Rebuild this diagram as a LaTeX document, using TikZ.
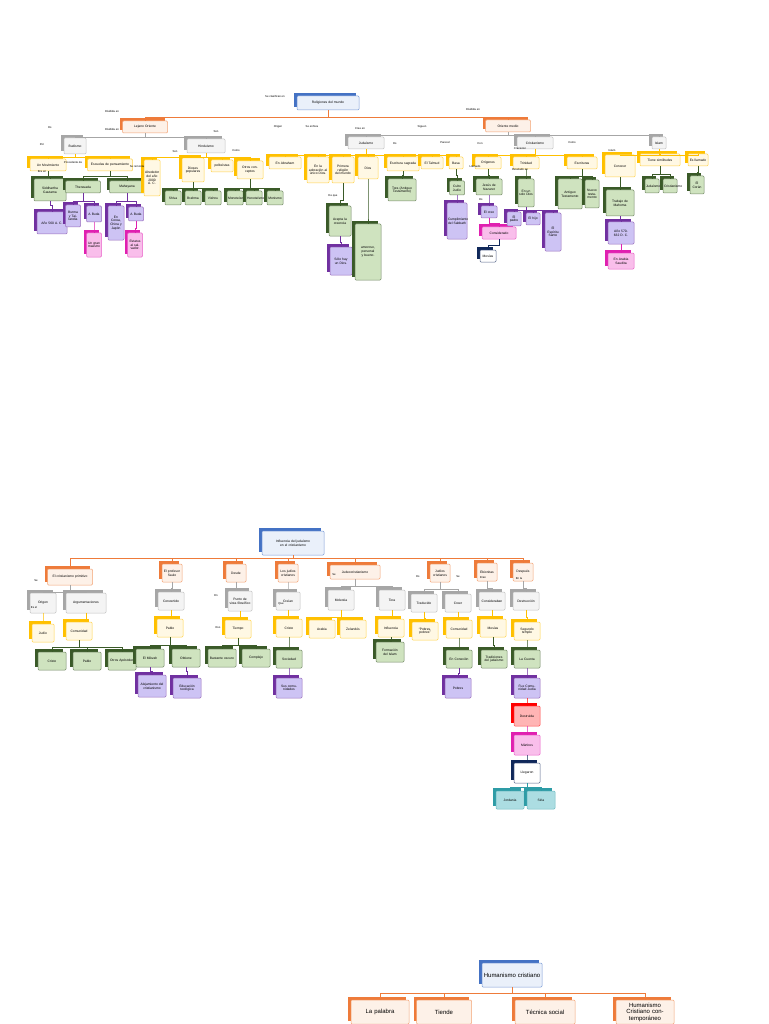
\documentclass[tikz,border=0pt]{standalone}
\usepackage{fontspec}
\setmainfont{Liberation Sans}
\definecolor{oD}{HTML}{EE7B3A}\definecolor{oL}{HTML}{FDF1E8}
\definecolor{gD}{HTML}{A6A6A6}\definecolor{gL}{HTML}{F4F4F4}
\definecolor{yD}{HTML}{FFC000}\definecolor{yL}{HTML}{FFF8E4}
\definecolor{eD}{HTML}{3A5A28}\definecolor{eL}{HTML}{CFE3BF}
\definecolor{pD}{HTML}{7030A0}\definecolor{pL}{HTML}{CDC3F4}
\definecolor{kD}{HTML}{E020B0}\definecolor{kL}{HTML}{F9BEEB}
\definecolor{nD}{HTML}{10285A}\definecolor{nL}{HTML}{FFFFFF}
\definecolor{rD}{HTML}{FF0000}\definecolor{rL}{HTML}{FFB4B4}
\definecolor{tD}{HTML}{2E9CA6}\definecolor{tL}{HTML}{ACDDE2}
\definecolor{bD}{HTML}{4472C4}\definecolor{bL}{HTML}{EAF0FA}
\newcommand\bx[7]{\fill[#6D] (#2-#4/2-3,#3-#5/2-3) rectangle ++(#4,#5);
 \node[draw=#6D!70,fill=#6L,line width=0.5pt,rounded corners=1pt,minimum width=#4,minimum height=#5,text width=#4-2,align=center,inner sep=0.5pt] (#1) at (#2,#3) {#7};}
\newcommand\tr[4]{\foreach \c in {#4}{\draw[#3,line width=0.8pt] (#1.south) -- (#1.south |- 0,#2) -| (\c.north);}}
\newcommand\lb[3]{\node[font=\fontsize{2.8}{3}\selectfont,inner sep=0] at (#1,#2) {#3};}
\begin{document}
\begin{tikzpicture}[x=1pt,y=-1pt]
\useasboundingbox (0,0) rectangle (768,1024);
\fontsize{3.3}{3.7}\selectfont
% ===== Tree 1
\bx{r}{328}{103}{62}{14}{b}{Religiones del mundo}
\bx{lo}{145}{127}{45}{12}{o}{Lejano Oriente}
\bx{om}{508}{126}{45}{12}{o}{Oriente medio}
\tr{r}{117}{oD}{lo,om}
\lb{275}{97}{Se clasifican en}\lb{112}{112}{Dividida en}\lb{473}{110}{Dividida en}
\bx{bud}{75}{146}{22}{16}{g}{Budismo}
\bx{hin}{206}{146}{38}{14}{g}{Hinduismo}
\tr{lo}{137}{gD}{bud,hin}
\lb{216}{132}{Son}\lb{112}{130}{Dividida en}\lb{50}{128}{Es}\lb{42}{145}{Por}
\bx{mov}{48}{165}{36}{12}{y}{Un Movimiento}
\bx{esc}{110}{165}{45}{12}{y}{Escuelas de pensamiento}
\tr{bud}{157}{yD}{mov,esc}
\lb{73}{163}{Procedente de}\lb{42}{172}{Era en}
\bx{sid}{50}{190}{32}{22}{e}{Siddhartha Gautama}
\tr{mov}{176}{eD}{sid}
\bx{a560}{52}{223}{30}{22}{p}{Año 560 A. C.}
\tr{sid}{205}{pD}{a560}
\bx{the}{83}{187}{35}{12}{e}{Theravada}
\bx{mah}{127}{187}{35}{12}{e}{Mahayana}
\tr{esc}{176}{eD}{the,mah}
\bx{bur}{73}{216}{15}{22}{p}{Burma y Tailandia}
\bx{ab1}{94}{214}{15}{16}{p}{A Buda}
\tr{the}{201}{pD}{bur,ab1}
\bx{gm}{94}{245}{15}{24}{k}{Un gran maestro}
\tr{ab1}{228}{kD}{gm}
\bx{cor}{116}{223}{16}{34}{p}{En Corea, China y Japón}
\bx{ab2}{136}{214}{15}{14}{p}{A Buda}
\tr{mah}{201}{pD}{cor,ab2}
\bx{sal}{135}{245}{15}{24}{k}{Estatus al salvador.}
\tr{ab2}{228}{kD}{sal}
\bx{alr}{152}{178}{16}{36}{y}{Alrededor del año 2000 A. C.}
\bx{dp}{193}{170}{22}{24}{y}{Dioses populares}
\bx{pol}{222}{166}{22}{12}{y}{politeístas}
\bx{oc}{250}{170}{26}{18}{y}{Otros conceptos}
\tr{hin}{157}{yD}{alr,dp,pol,oc}
\lb{175}{152}{Son}\lb{236}{151}{Como}\lb{137}{167}{Se remonta}
\bx{shi}{173}{198}{16}{14}{e}{Shiva}
\bx{bra}{193}{198}{16}{14}{e}{Brahma}
\bx{vis}{213}{198}{16}{14}{e}{Vishnu}
\tr{dp}{188}{eD}{shi,bra,vis}
\bx{mon}{235}{198}{16}{14}{e}{Monoteísmo}
\bx{hen}{254}{198}{16}{14}{e}{Henoteísmo}
\bx{moni}{275}{198}{16}{14}{e}{Monismo}
\tr{oc}{188}{eD}{mon,hen,moni}
\bx{jud}{366}{143}{36}{12}{g}{Judaísmo}
\bx{cri}{535}{143}{36}{12}{g}{Cristianismo}
\bx{isl}{659}{143}{14}{12}{g}{Islam}
\tr{om}{135}{gD}{jud,cri,isl}
\lb{278}{127}{Origen}\lb{312}{127}{Se enfoca}\lb{360}{129}{Cree en}\lb{422}{127}{Siguen}
\lb{395}{144}{Es}\lb{480}{144}{Con}\lb{572}{143}{Como}\lb{520}{149}{Crecieron}\lb{445}{143}{Parecel}
\bx{abr}{285}{163}{32}{12}{y}{En Abraham}
\bx{ado}{318}{170}{22}{26}{y}{En la adoración al único Dios.}
\bx{pri}{343}{170}{22}{26}{y}{Primera religión del mundo}
\bx{dio}{368}{168}{20}{22}{y}{Dios}
\bx{esa}{403}{164}{32}{14}{y}{Escritura sagrada}
\bx{tal}{432}{163}{22}{12}{y}{El Talmud}
\bx{bas}{456}{163}{14}{12}{y}{Basa}
\tr{jud}{155}{yD}{abr,ado,pri,dio,esa,tal,bas}
\bx{ace}{340}{221}{22}{30}{e}{Acepta la creencia}
\tr{pri}{200}{eD}{ace}
\lb{333}{196}{De que}
\bx{sol}{341}{261}{22}{28}{p}{Sólo hay un Dios.}
\tr{ace}{242}{pD}{sol}
\bx{amo}{368}{252}{26}{56}{e}{amoroso, personal y bueno.}
\tr{dio}{215}{eD}{amo}
\bx{tor}{402}{190}{28}{22}{e}{Tora (Antiguo Testamento)}
\tr{esa}{175}{eD}{tor}
\bx{cul}{457}{188}{15}{14}{e}{Culto Judío}
\tr{bas}{175}{eD}{cul}
\bx{sab}{457}{221}{20}{36}{p}{Cumplimiento del Sabbath}
\tr{cul}{199}{pD}{sab}
\bx{ori}{488}{163}{26}{12}{y}{Orígenes}
\bx{tri}{526}{163}{26}{12}{y}{Trinidad}
\bx{escr}{582}{163}{30}{12}{y}{Escrituras}
\tr{cri}{155}{yD}{ori,tri,escr}
\bx{jes}{489}{187}{26}{16}{e}{Jesús de Nazaret}
\tr{ori}{175}{eD}{jes}\lb{475}{167}{Llamado}
\bx{ecr}{489}{212}{16}{12}{p}{El creo}
\tr{jes}{200}{pD}{ecr}\lb{481}{200}{Es}
\bx{con}{499}{233}{34}{12}{k}{Considerado}
\tr{ecr}{223}{kD}{con}
\bx{mes}{488}{256}{16}{12}{n}{Mesías}
\tr{con}{245}{nD}{mes}
\bx{eus}{526}{193}{16}{28}{e}{En un solo Dios}
\tr{tri}{175}{eD}{eus}\lb{520}{170}{Revelado en}
\bx{pad}{514}{219}{14}{14}{p}{El padre}
\bx{hij}{533}{219}{14}{12}{p}{El hijo}
\bx{esp}{553}{232}{16}{38}{p}{El Espíritu Santo}
\tr{eus}{210}{pD}{pad,hij,esp}
\bx{ant}{570}{194}{24}{30}{e}{Antiguo Testamento}
\bx{nue}{592}{194}{14}{28}{e}{Nuevo testamento}
\tr{escr}{176}{eD}{ant,nue}
\bx{cono}{620}{166}{30}{22}{y}{Conocer}
\bx{tie}{660}{160}{40}{12}{y}{Tiene similitudes}
\bx{ell}{698}{160}{20}{12}{y}{Es llamado}
\tr{isl}{155}{yD}{cono,tie,ell}\lb{612}{151}{Islam}
\bx{tra}{620}{203}{28}{26}{e}{Trabajo de Mahoma}
\tr{cono}{185}{eD}{tra}
\bx{a570}{621}{233}{26}{22}{p}{Año 570-632 D. C.}
\tr{tra}{219}{pD}{a570}
\bx{ara}{621}{261}{26}{16}{k}{En Arabia Saudita}
\tr{a570}{248}{kD}{ara}
\bx{ij}{652}{186}{14}{14}{e}{Judaísmo}
\bx{ic}{670}{186}{14}{14}{e}{Cristianismo}
\tr{tie}{174}{eD}{ij,ic}
\bx{cor2}{697}{185}{14}{18}{e}{El Corán}
\tr{ell}{172}{eD}{cor2}
% ===== Tree 2
\bx{R2}{293}{543}{62}{24}{b}{Influencia del judaísmo en el cristianismo}
\bx{c1}{70}{577}{45}{16}{o}{El cristianismo primitivo}
\bx{c2}{172}{573}{20}{18}{o}{El profesor Saulo}
\bx{c3}{236}{573}{20}{18}{o}{Desde}
\bx{c4}{288}{573}{20}{18}{o}{Los judíos cristianos}
\bx{c5}{355}{572}{50}{14}{o}{Judeocristianismo}
\bx{c6}{440}{573}{20}{18}{o}{Judíos cristianos}
\bx{c7}{487}{572}{20}{18}{o}{Ebionitas}
\bx{c8}{523}{572}{20}{18}{o}{Después}
\tr{R2}{558}{oD}{c1,c2,c3,c4,c5,c6,c7,c8}
\bx{g1}{43}{603}{26}{20}{g}{Origen}
\bx{g2}{86}{603}{40}{20}{g}{Argumentaciones}
\tr{c1}{592}{gD}{g1,g2}
\bx{g3}{171}{601}{26}{18}{g}{Convertido}\tr{c2}{588}{gD}{g3}
\bx{g4}{240}{601}{24}{20}{g}{Punto de vista filosófico}\tr{c3}{588}{gD}{g4}
\bx{g5}{288}{601}{24}{18}{g}{Creían}\tr{c4}{588}{gD}{g5}
\bx{g6}{341}{600}{26}{20}{g}{Molestia}
\bx{g7}{392}{600}{26}{20}{g}{Tora}
\tr{c5}{586}{gD}{g6,g7}
\bx{g8}{424}{603}{26}{18}{g}{Traducido}
\bx{g9}{458}{603}{26}{18}{g}{Creer}
\tr{c6}{589}{gD}{g8,g9}
\bx{g10}{492}{601}{26}{18}{g}{Consideraban}\tr{c7}{588}{gD}{g10}
\bx{g11}{526}{601}{26}{18}{g}{Destrucción}\tr{c8}{588}{gD}{g11}
\lb{36}{581}{Se}\lb{34}{607}{Es el}\lb{216}{596}{En}\lb{281}{604}{Que}\lb{334}{575}{Se}
\lb{418}{577}{Es}\lb{458}{577}{Se}\lb{483}{578}{Eran}\lb{519}{578}{En la}\lb{70}{629}{Fase}\lb{218}{628}{Eso}
\bx{y1}{43}{633}{22}{18}{y}{Judío}\tr{g1}{619}{yD}{y1}
\bx{y2}{79}{631}{26}{18}{y}{Comunidad}\tr{g2}{619}{yD}{y2}
\bx{y3}{170}{628}{26}{18}{y}{Pablo}\tr{g3}{616}{yD}{y3}
\bx{y4}{238}{629}{26}{18}{y}{Tiempo}\tr{g4}{617}{yD}{y4}
\bx{y5}{289}{628}{26}{18}{y}{Cristo}\tr{g5}{616}{yD}{y5}
\bx{y6}{322}{629}{26}{18}{y}{Arabia}
\bx{y7}{353}{629}{26}{18}{y}{Zelandés}
\tr{g6}{617}{yD}{y6,y7}
\bx{y8}{391}{628}{26}{18}{y}{Influencia}\tr{g7}{616}{yD}{y8}
\bx{y9}{425}{631}{26}{18}{y}{“Pobres, pobres”}\tr{g8}{618}{yD}{y9}
\bx{y10}{459}{629}{26}{18}{y}{Comunidad}\tr{g9}{617}{yD}{y10}
\bx{y11}{493}{628}{26}{18}{y}{Mesías}\tr{g10}{616}{yD}{y11}
\bx{y12}{527}{631}{26}{18}{y}{Segundo templo}\tr{g11}{617}{yD}{y12}
\bx{e1}{52}{661}{28}{18}{e}{Cristo}
\bx{e2}{87}{661}{28}{18}{e}{Pablo}
\bx{e3}{122}{661}{28}{18}{e}{Otros Apóstoles}
\tr{y2}{647}{eD}{e1,e2,e3}
\bx{e4}{150}{658}{28}{18}{e}{El Mikvah}
\bx{e5}{186}{658}{28}{18}{e}{Obtiene}
\tr{y3}{645}{eD}{e4,e5}
\bx{e6}{222}{658}{28}{18}{e}{Bastante oscuro}
\bx{e7}{256}{658}{28}{18}{e}{Complejo}
\tr{y4}{645}{eD}{e6,e7}
\bx{e8}{289}{659}{26}{18}{e}{Sociedad}\tr{y5}{645}{eD}{e8}
\bx{e9}{390}{652}{28}{20}{e}{Formación del Islam}\tr{y8}{641}{eD}{e9}
\bx{e10}{459}{659}{26}{18}{e}{En Conexión}\tr{y10}{645}{eD}{e10}
\bx{e11}{494}{659}{26}{18}{e}{Tradiciones del judaísmo}\tr{y11}{645}{eD}{e11}
\bx{e12}{527}{659}{26}{18}{e}{La Cuenta}\tr{y12}{645}{eD}{e12}
\bx{p1}{152}{686}{28}{22}{p}{Alejamiento del cristianismo}\tr{e4}{671}{pD}{p1}
\bx{p2}{187}{688}{28}{20}{p}{Educación teológica}\tr{e5}{671}{pD}{p2}
\bx{p3}{289}{688}{26}{20}{p}{Sus comunidades}\tr{e8}{673}{pD}{p3}
\bx{p4}{458}{688}{26}{20}{p}{Pobres}\tr{e10}{673}{pD}{p4}
\bx{p5}{527}{688}{26}{20}{p}{Fue Comunidad Judía}\tr{e12}{673}{pD}{p5}
\bx{q1}{527}{716}{26}{20}{r}{Destruida}\tr{p5}{703}{rD}{q1}
\bx{q2}{527}{745}{26}{20}{k}{Mártires}\tr{q1}{731}{kD}{q2}
\bx{q3}{527}{773}{26}{20}{n}{Llegaron}\tr{q2}{760}{nD}{q3}
\bx{q4}{510}{800}{28}{18}{t}{Jordania}
\bx{q5}{541}{800}{28}{18}{t}{Siria}
\tr{q3}{787}{tD}{q4,q5}
% ===== Tree 3
\begin{scope}[every node/.append style={font=\fontsize{6}{6.5}\selectfont}]
\bx{H}{512}{975}{60}{24}{b}{Humanismo cristiano}
\bx{h1}{380}{1012}{58}{24}{o}{La palabra}
\bx{h2}{444}{1012}{55}{24}{o}{Tiende}
\bx{h3}{545}{1012}{60}{24}{o}{Técnica social}
\bx{h4}{645}{1012}{58}{24}{o}{Humanismo Cristiano contemporáneo}
\tr{H}{993}{oD}{h1,h2,h3,h4}
\end{scope}
\end{tikzpicture}
\end{document}
